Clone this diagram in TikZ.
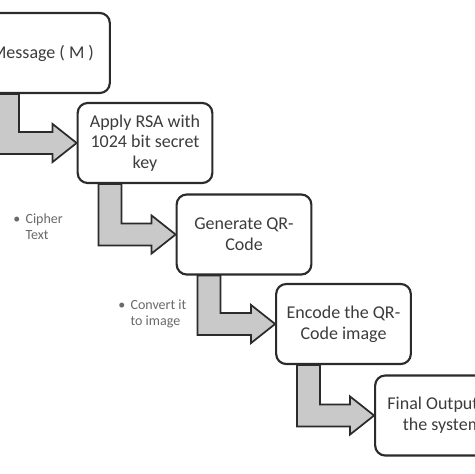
\documentclass[tikz,border=0pt]{standalone}
\usepackage{fontspec}
\setmainfont{Carlito}
\usetikzlibrary{calc}
\definecolor{boxline}{HTML}{2B2B2B}
\definecolor{boxtext}{HTML}{3C3C3C}
\definecolor{arrowfill}{HTML}{C9C9C9}
\definecolor{notetext}{HTML}{6A6A6A}
\tikzset{
  stepbox/.style={draw=boxline, line width=1.6pt, rounded corners=7.5pt, fill=white,
    minimum width=101pt, minimum height=60pt, align=center, text=boxtext,
    font=\fontsize{13.5}{15.5}\selectfont, inner sep=0pt},
  blockarrow/.style={draw=boxline, line width=1.3pt, fill=arrowfill, line join=miter},
  note/.style={text=notetext, font=\fontsize{10.5}{12}\selectfont, inner sep=0pt, anchor=north west}
}
\newcommand{\elbowarrow}[2]{%
  \path[blockarrow] ($(#1.south west)+(22,0)$) |- ($(#2.west)+(-24,11)$) -- ++(0,8) -- (#2.west)
    -- ($(#2.west)+(-24,-19)$) -- ++(0,8) -| ($(#1.south west)+(45,0)$) -- cycle;}
\begin{document}
\begin{tikzpicture}[x=0.75pt, y=-0.75pt]
\useasboundingbox[fill=white] (0,0) rectangle (474,474);
\node[stepbox] (m) at (42.5,53) {Message ( M )};
\node[stepbox] (rsa) at (145,143) {Apply RSA with\\1024 bit secret\\key};
\node[stepbox] (gen) at (244,234.5) {Generate QR-\\Code};
\node[stepbox] (enc) at (343.5,324) {Encode the QR-\\Code image};
\node[stepbox] (out) at (442.5,415.5) {Final Output of\\the system};
\elbowarrow{m}{rsa}
\elbowarrow{rsa}{gen}
\elbowarrow{gen}{enc}
\elbowarrow{enc}{out}
\node[note] (cipher) at (13,212) {\begin{tabular}{@{}l@{\hspace{4pt}}l@{}}\textbullet & Cipher\\ & Text\end{tabular}};
\node[note] (convert) at (118,298) {\begin{tabular}{@{}l@{\hspace{4pt}}l@{}}\textbullet & Convert it\\ & to image\end{tabular}};
\end{tikzpicture}
\end{document}
